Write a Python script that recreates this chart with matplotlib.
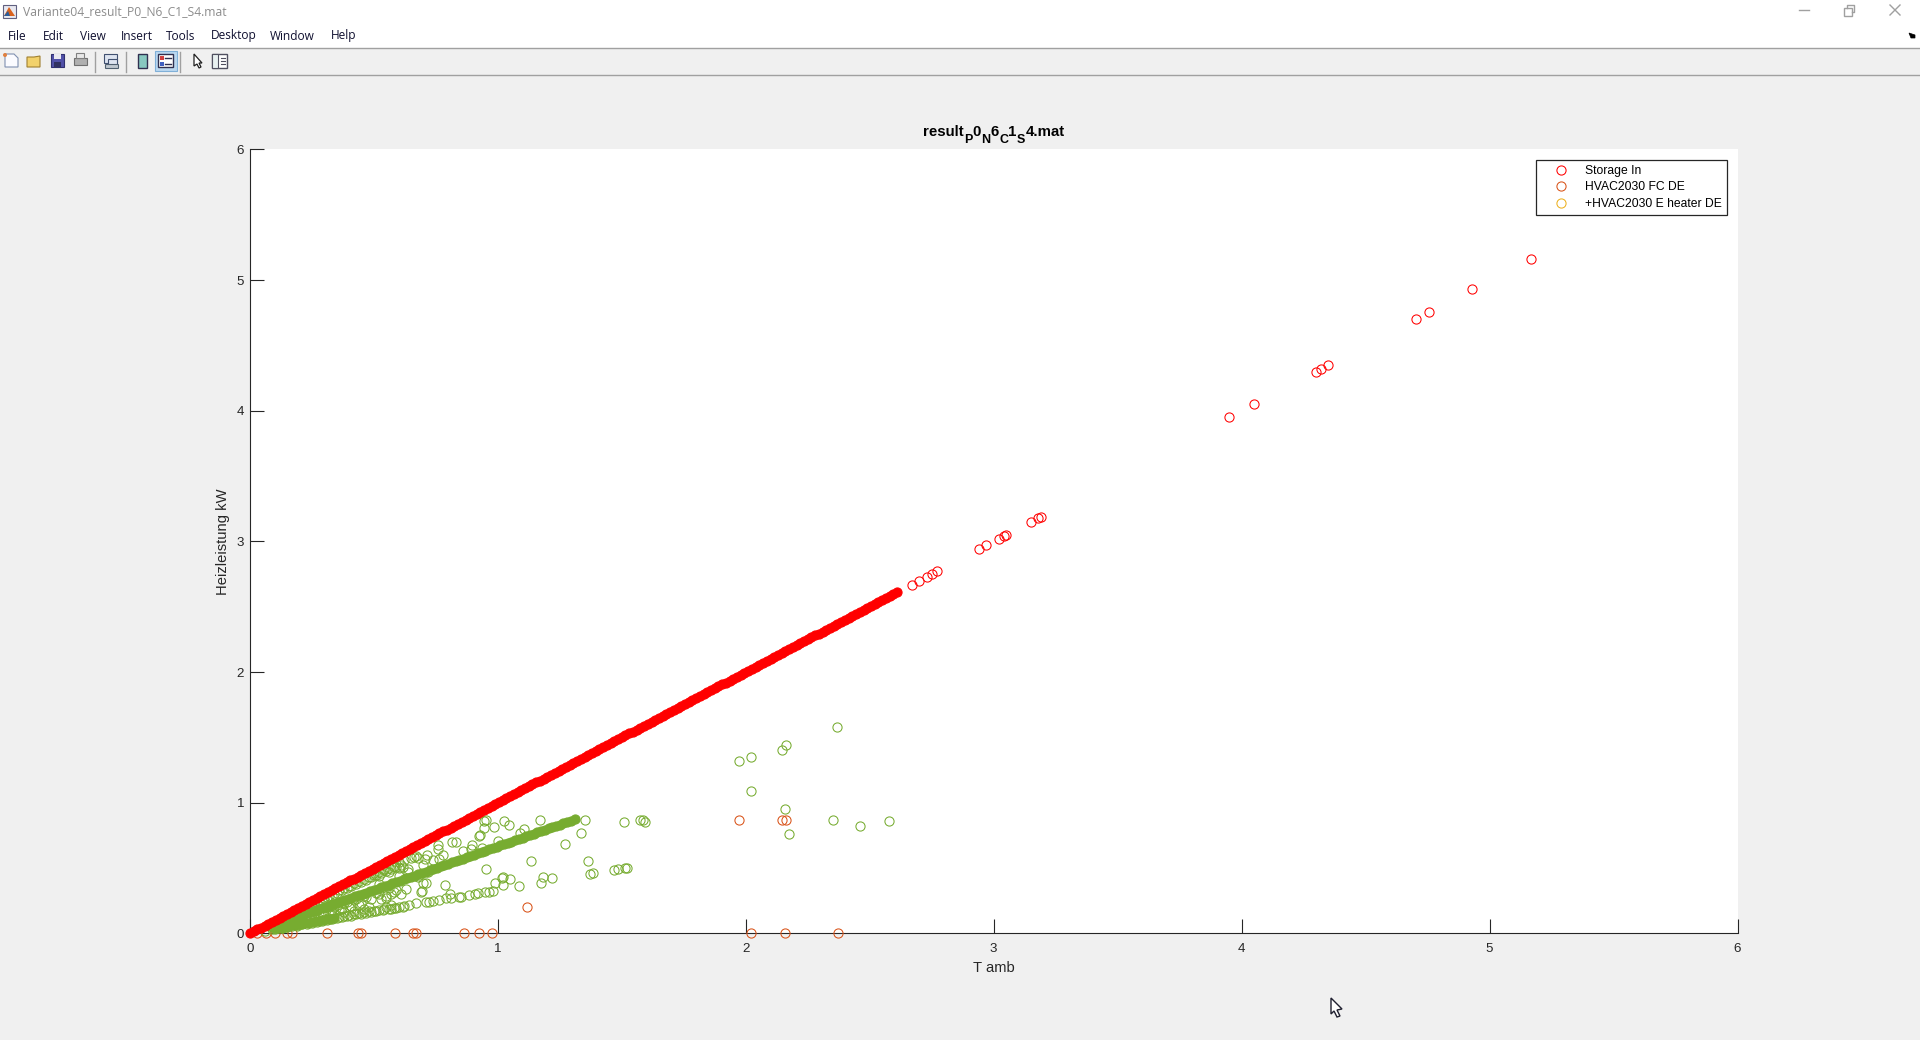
import matplotlib
matplotlib.use('Agg')
import matplotlib.pyplot as plt
import matplotlib.patches as patches

plt.rcParams['font.family'] = ['Liberation Sans', 'DejaVu Sans']

RED = '#FF0000'
ORANGE = '#D95319'
YELLOW = '#EDB120'
GREEN = '#77AC30'
BG = '#F0F0F0'
DARK = '#262626'

# storage in: heat power equals T amb, so one list serves both axes
storage_band = [0.0, 0.015, 0.03, 0.045, 0.06, 0.075, 0.09, 0.105, 0.12, 0.135, 0.15, 0.165, 0.18, 0.195, 0.21,
                0.225, 0.24, 0.255, 0.27, 0.285, 0.3, 0.315, 0.33, 0.345, 0.36, 0.375, 0.39, 0.405, 0.42, 0.435,
                0.45, 0.465, 0.48, 0.495, 0.51, 0.525, 0.54, 0.555, 0.57, 0.585, 0.6, 0.615, 0.63, 0.645, 0.66,
                0.675, 0.69, 0.705, 0.72, 0.735, 0.75, 0.765, 0.78, 0.795, 0.81, 0.825, 0.84, 0.855, 0.87, 0.885,
                0.9, 0.915, 0.93, 0.945, 0.96, 0.975, 0.99, 1.005, 1.02, 1.035, 1.05, 1.065, 1.08, 1.095, 1.11,
                1.125, 1.14, 1.155, 1.17, 1.185, 1.2, 1.215, 1.23, 1.245, 1.26, 1.275, 1.29, 1.305, 1.32, 1.335,
                1.35, 1.365, 1.38, 1.395, 1.41, 1.425, 1.44, 1.455, 1.47, 1.485, 1.5, 1.515, 1.53, 1.545, 1.56,
                1.575, 1.59, 1.605, 1.62, 1.635, 1.65, 1.665, 1.68, 1.695, 1.71, 1.725, 1.74, 1.755, 1.77, 1.785,
                1.8, 1.815, 1.83, 1.845, 1.86, 1.875, 1.89, 1.905, 1.92, 1.935, 1.95, 1.965, 1.98, 1.995, 2.01,
                2.025, 2.04, 2.055, 2.07, 2.085, 2.1, 2.115, 2.13, 2.145, 2.16, 2.175, 2.19, 2.205, 2.22, 2.235,
                2.25, 2.265, 2.28, 2.295, 2.31, 2.325, 2.34, 2.355, 2.37, 2.385, 2.4, 2.415, 2.43, 2.445, 2.46,
                2.475, 2.49, 2.505, 2.52, 2.535, 2.55, 2.565, 2.58, 2.595, 2.61]
storage_single = [2.67, 2.70, 2.73, 2.75, 2.77, 2.94, 2.97, 3.02, 3.04, 3.05, 3.15, 3.18, 3.19, 3.95, 4.05, 4.30,
                  4.32, 4.35, 4.705, 4.755, 4.93, 5.165]

# HVAC2030 FC DE
fc_x = [0.03, 0.065, 0.10, 0.15, 0.17, 0.31, 0.435, 0.45, 0.587, 0.66, 0.67, 0.864, 0.923, 0.976, 1.117,
        1.974, 2.145, 2.161, 2.021, 2.16, 2.371]
fc_y = [0, 0, 0, 0, 0, 0, 0, 0, 0, 0, 0, 0, 0, 0, 0.20,
        0.868, 0.868, 0.868, 0, 0, 0]

# fourth series, has no legend entry: the solid band
band_x = [0.08, 0.095, 0.11, 0.125, 0.14, 0.155, 0.17, 0.185, 0.20, 0.215, 0.23, 0.245, 0.26, 0.275, 0.29, 0.305,
          0.32, 0.335, 0.35, 0.365, 0.38, 0.395, 0.41, 0.425, 0.44, 0.455, 0.47, 0.485, 0.50, 0.515, 0.53, 0.545,
          0.56, 0.575, 0.59, 0.605, 0.62, 0.635, 0.65, 0.665, 0.68, 0.695, 0.71, 0.725, 0.74, 0.755, 0.77, 0.785,
          0.80, 0.815, 0.83, 0.845, 0.86, 0.875, 0.89, 0.905, 0.92, 0.935, 0.95, 0.965, 0.98, 0.995, 1.01, 1.025,
          1.04, 1.055, 1.07, 1.085, 1.10, 1.115, 1.13, 1.145, 1.16, 1.175, 1.19, 1.205, 1.22, 1.235, 1.25, 1.265,
          1.28, 1.295, 1.31]
band_y = [0.053, 0.063, 0.073, 0.083, 0.093, 0.103, 0.113, 0.123, 0.133, 0.143, 0.153, 0.163, 0.173, 0.183, 0.193,
          0.203, 0.213, 0.223, 0.233, 0.243, 0.253, 0.263, 0.273, 0.283, 0.293, 0.303, 0.313, 0.323, 0.333, 0.343,
          0.353, 0.363, 0.373, 0.383, 0.393, 0.403, 0.413, 0.423, 0.433, 0.443, 0.453, 0.463, 0.473, 0.483, 0.493,
          0.503, 0.513, 0.523, 0.533, 0.543, 0.553, 0.563, 0.573, 0.583, 0.593, 0.603, 0.613, 0.623, 0.633, 0.643,
          0.653, 0.663, 0.673, 0.683, 0.693, 0.703, 0.713, 0.723, 0.733, 0.743, 0.753, 0.763, 0.773, 0.783, 0.793,
          0.803, 0.813, 0.823, 0.833, 0.843, 0.853, 0.863, 0.873]

# lower strand where it also closes up
low_x = [0.10, 0.115, 0.13, 0.145, 0.16, 0.175, 0.19, 0.205, 0.22, 0.235, 0.25, 0.265, 0.28, 0.295, 0.31, 0.325,
         0.34]
low_y = [0.035, 0.04, 0.045, 0.05, 0.056, 0.061, 0.066, 0.072, 0.077, 0.082, 0.088, 0.093, 0.098, 0.103, 0.108, 0.114,
         0.119]

# same series: rings, lower strand then the scattered ones
ring_x = [0.06, 0.09, 0.11, 0.13, 0.15, 0.17, 0.19, 0.21, 0.23, 0.25, 0.27, 0.29, 0.31, 0.33, 0.35, 0.37,
          0.39, 0.41, 0.43, 0.45, 0.47, 0.49, 0.509, 0.536, 0.569, 0.59, 0.616, 0.643, 0.67, 0.711, 0.724, 0.74,
          0.762, 0.791, 0.81, 0.807, 0.843, 0.852, 0.886, 0.908, 0.919, 0.95, 0.966, 0.981, 0.99,
          1.018, 1.023, 1.05, 1.023, 1.086, 1.174, 1.218, 1.183, 1.135, 1.273, 1.335, 1.35, 1.362, 1.37, 1.384,
          1.467, 1.483, 1.515, 1.521, 1.511, 1.573, 1.585, 1.594,
          1.974, 2.021, 2.021, 2.146, 2.161, 2.37, 2.16, 2.351, 2.578, 2.462, 2.175,
          1.171, 1.105, 1.088, 1.044, 1.026, 0.984, 0.953, 0.945, 0.946, 0.923, 0.93, 1.0, 0.898, 0.894, 0.861,
          0.935, 0.952, 0.814, 0.832, 0.758, 0.76, 0.778, 0.715, 0.764, 0.707, 0.677, 0.661, 0.789, 0.694, 0.689,
          0.711, 0.697, 0.616, 0.64, 0.60, 0.58, 0.56, 0.54, 0.52, 0.50, 0.48, 0.46, 0.44, 0.42, 0.40, 0.38,
          0.36, 0.34, 0.32, 0.30, 0.28, 0.26, 0.24, 0.22, 0.63, 0.59, 0.57, 0.55, 0.53, 0.51, 0.49, 0.47, 0.45,
          0.43, 0.41, 0.39, 0.37, 0.35, 0.33, 0.31, 0.29, 0.27, 0.25, 0.48, 0.46, 0.44, 0.42, 0.40, 0.38, 0.36,
          0.34, 0.32, 0.30, 0.28, 0.26, 0.24,
          0.23, 0.25, 0.27, 0.29, 0.31, 0.33, 0.35, 0.37, 0.39, 0.41, 0.43, 0.45, 0.47, 0.49, 0.51, 0.53, 0.55,
          0.57, 0.59, 0.61, 0.62, 0.65, 0.67, 0.50, 0.52, 0.54, 0.56, 0.58, 0.60, 0.52, 0.55, 0.58, 0.61, 0.68,
          0.70, 0.72, 0.74, 0.21, 0.26, 0.30, 0.34, 0.38, 0.42, 0.46, 0.52, 0.56, 0.60, 0.64,
          0.36, 0.38, 0.40, 0.42, 0.44, 0.46, 0.48, 0.50, 0.52, 0.54, 0.55, 0.56, 0.57, 0.58, 0.60, 0.62]
ring_y = [0.02, 0.03, 0.04, 0.045, 0.05, 0.055, 0.06, 0.07, 0.075, 0.08, 0.09, 0.095, 0.10, 0.11, 0.115, 0.125,
          0.13, 0.135, 0.145, 0.15, 0.155, 0.165, 0.171, 0.176, 0.189, 0.196, 0.204, 0.217, 0.23, 0.237, 0.242, 0.247,
          0.258, 0.268, 0.273, 0.301, 0.278, 0.281, 0.293, 0.304, 0.306, 0.314, 0.319, 0.324, 0.388,
          0.421, 0.434, 0.416, 0.37, 0.36, 0.388, 0.423, 0.429, 0.556, 0.684, 0.765, 0.867, 0.554, 0.454, 0.459,
          0.488, 0.49, 0.503, 0.503, 0.85, 0.865, 0.865, 0.855,
          1.316, 1.347, 1.087, 1.405, 1.439, 1.581, 0.949, 0.868, 0.858, 0.819, 0.761,
          0.865, 0.796, 0.765, 0.827, 0.86, 0.811, 0.867, 0.862, 0.809, 0.745, 0.753, 0.709, 0.673, 0.648, 0.633,
          0.653, 0.495, 0.696, 0.699, 0.676, 0.648, 0.60, 0.602, 0.566, 0.566, 0.579, 0.582, 0.37, 0.327, 0.314,
          0.383, 0.388, 0.51, 0.49, 0.55, 0.51, 0.50, 0.49, 0.47, 0.46, 0.43, 0.42, 0.40, 0.385, 0.36, 0.345,
          0.33, 0.305, 0.29, 0.27, 0.25, 0.235, 0.215, 0.195, 0.34, 0.33, 0.30, 0.27, 0.265, 0.31, 0.26, 0.28, 0.235,
          0.26, 0.21, 0.24, 0.195, 0.22, 0.18, 0.20, 0.165, 0.18, 0.15, 0.205, 0.19, 0.22, 0.175, 0.20, 0.16, 0.18,
          0.145, 0.16, 0.13, 0.14, 0.115, 0.125,
          0.20, 0.215, 0.235, 0.255, 0.275, 0.29, 0.31, 0.33, 0.345, 0.36, 0.38, 0.395, 0.41, 0.43, 0.445, 0.46, 0.475,
          0.49, 0.505, 0.525, 0.56, 0.575, 0.59, 0.45, 0.44, 0.485, 0.47, 0.515, 0.50, 0.30, 0.29, 0.32, 0.30, 0.43,
          0.52, 0.47, 0.56, 0.11, 0.15, 0.17, 0.205, 0.23, 0.255, 0.285, 0.38, 0.35, 0.44, 0.47,
          0.125, 0.135, 0.14, 0.15, 0.155, 0.16, 0.17, 0.175, 0.18, 0.185, 0.2, 0.19, 0.22, 0.195, 0.2, 0.21]

xticks = [0, 1, 2, 3, 4, 5, 6]
yticks = [0, 1, 2, 3, 4, 5, 6]
title_parts = [('result', 0), ('P', 1), ('0', 0), ('N', 1), ('6', 0), ('C', 1), ('1', 0), ('S', 1), ('4.mat', 0)]

W, H = 1920, 1040
fig = plt.figure(figsize=(W/100, H/100), dpi=100, facecolor=BG)

# window chrome, in pixels
ui = fig.add_axes([0, 0, 1, 1])
ui.set_xlim(0, W)
ui.set_ylim(H, 0)
ui.axis('off')
ui.add_patch(patches.Rectangle((0, 0), W, 48, fc='white', ec='none'))
ui.plot([0, W], [48, 48], color='#A0A0A0', lw=1)
ui.plot([0, W], [75, 75], color='#A0A0A0', lw=1)
ui.text(23, 11.5, 'Variante04_result_P0_N6_C1_S4.mat', color='#8C8C8C', fontsize=8.7, family='Open Sans', va='center')

menu_x = [8, 43, 80, 121, 166, 211, 270, 331]
menu_names = ['File', 'Edit', 'View', 'Insert', 'Tools', 'Desktop', 'Window', 'Help']
for mx, name in zip(menu_x, menu_names):
    ui.text(mx, 36, name, color='#101030', fontsize=8.6, family='Open Sans', va='center')


def box(x, y, w, h, fc, ec='#505050', lw=0.8):
    ui.add_patch(patches.Rectangle((x, y), w, h, fc=fc, ec=ec, lw=lw))


# app icon
box(3, 5, 13, 13, '#E8E8F0', '#606080')
ui.add_patch(patches.Polygon([[4, 16], [9, 7], [15, 16]], fc='#D9621E', ec='none'))
ui.add_patch(patches.Polygon([[4, 16], [8, 11], [10, 16]], fc='#2B5C9A', ec='none'))
# new, open, save, print
ui.add_patch(patches.Polygon([[5, 54], [14, 54], [18, 58], [18, 67], [5, 67]], fc='#FBFBFF', ec='#8090B0', lw=0.8))
ui.add_patch(patches.Circle((5, 55), 2, fc='#E08040', ec='none'))
ui.add_patch(patches.Polygon([[27, 57], [34, 57], [40, 56], [40, 67], [27, 67]], fc='#F2D16B', ec='#A08030', lw=0.8))
box(51, 54, 13, 13, '#5050A8', '#303070')
box(54, 54, 7, 5, '#E8E8F0', 'none')
box(54, 62, 7, 5, '#303060', 'none')
box(74, 58, 13, 7, '#B0B0B0', '#707070')
box(76, 53, 8, 5, '#E8E8E8', '#808080')
# separators
for sx in [95, 126, 180]:
    ui.plot([sx, sx], [52, 72], color='#A0A0A0', lw=1)
# link plot
box(104, 54, 13, 9, '#DDE4F0', '#405070')
box(108, 59, 9, 6, '#DDE4F0', '#405070')
ui.add_patch(patches.FancyBboxPatch((106, 65), 12, 3, boxstyle='round,pad=0.5', fc='#C0C8D0', ec='#506070', lw=0.8))
# colorbar, legend
ui.add_patch(patches.Rectangle((138, 54), 9, 14, fc='#88C8C0', ec='#303050', lw=1))
ui.add_patch(patches.Rectangle((155, 51), 22, 20, fc='#BBD8F0', ec='#80B0D8', lw=0.8))
box(158, 54, 15, 13, 'white', '#303050', 1)
box(159.5, 56, 4, 4, '#D04040', 'none')
box(159.5, 62, 4, 4, '#4060C0', 'none')
ui.plot([165, 171], [58, 58], color='#303050', lw=1)
ui.plot([165, 171], [64, 64], color='#303050', lw=1)
# pointer, property panel
ui.add_patch(patches.Polygon([[194, 54], [202, 63], [199, 63], [201, 67], [199, 68], [197, 64], [194, 66]],
                             fc='white', ec='#202020', lw=0.9))
box(212, 54, 15, 14, 'white', '#505060', 1)
box(212, 54, 6, 14, '#E8F0F0', '#505060', 0.8)
for ly in [58, 61, 64]:
    ui.plot([221, 225], [ly, ly], color='#505060', lw=0.8)
# window buttons
ui.plot([1799, 1809], [10, 10], color='#A0A0A0', lw=1)
box(1844, 8, 8, 8, 'white', '#A0A0A0', 1)
ui.plot([1847, 1847, 1854, 1854, 1852], [8, 5, 5, 12, 12], color='#A0A0A0', lw=1)
ui.plot([1890, 1900], [5, 15], color='#A0A0A0', lw=1)
ui.plot([1890, 1900], [15, 5], color='#A0A0A0', lw=1)
ui.add_patch(patches.Polygon([[1909, 33], [1915, 35], [1915, 38], [1911, 38]], fc='black', ec='black', lw=0.5))
# mouse cursor
ui.add_patch(patches.Polygon([[1331, 998], [1342, 1009], [1337, 1010], [1340, 1016], [1337, 1017], [1334, 1011],
                              [1331, 1014]], fc='white', ec='#202030', lw=1))

# the chart
ax = fig.add_axes([249.8/W, (H-933.4)/H, 1487.8/W, 784/H], facecolor='white')
ms = 6.6
mew = 0.75
ax.plot(fc_x, fc_y, 'o', mfc='none', mec=ORANGE, ms=ms, mew=mew, clip_on=False, zorder=3)
ax.plot(ring_x, ring_y, 'o', mfc='none', mec=GREEN, ms=ms, mew=mew, clip_on=False, zorder=4)
ax.plot(low_x, low_y, 'o', mfc=GREEN, mec=GREEN, ms=ms, mew=mew, clip_on=False, zorder=4)
ax.plot(band_x, band_y, 'o', mfc=GREEN, mec=GREEN, ms=ms, mew=mew, clip_on=False, zorder=4)
ax.plot(storage_band, storage_band, 'o', mfc=RED, mec=RED, ms=ms, mew=mew, clip_on=False, zorder=5)
ax.plot(storage_single, storage_single, 'o', mfc='none', mec=RED, ms=ms, mew=mew, clip_on=False, zorder=5)

h1 = plt.Line2D([], [], ls='none', marker='o', mfc='none', mec=RED, ms=ms, mew=mew)
h2 = plt.Line2D([], [], ls='none', marker='o', mfc='none', mec=ORANGE, ms=ms, mew=mew)
h3 = ax.plot([], [], ls='none', marker='o', mfc='none', mec=YELLOW, ms=ms, mew=mew)[0]
leg = ax.legend([h1, h2, h3], ['Storage In', 'HVAC2030 FC DE', '+HVAC2030 E heater DE'],
                loc='upper right', bbox_to_anchor=((1727-249.8)/1487.8, (933.4-160)/784), borderaxespad=0,
                fontsize=8.7, frameon=True, fancybox=False, framealpha=1, edgecolor=DARK,
                handletextpad=0.4, labelspacing=0.36, borderpad=0.42, handlelength=3.2)
leg.get_frame().set_linewidth(0.9)
leg.set_zorder(10)

ax.set_xlim(0, 6)
ax.set_ylim(0, 6)
ax.set_xticks(xticks)
ax.set_yticks(yticks)
ax.spines['top'].set_visible(False)
ax.spines['right'].set_visible(False)
for side in ['left', 'bottom']:
    ax.spines[side].set_color(DARK)
    ax.spines[side].set_linewidth(0.8)
ax.tick_params(direction='in', length=10, width=0.8, color=DARK, labelcolor=DARK, labelsize=9.6, pad=4)
ax.tick_params(axis='x', pad=7)
ax.set_xlabel('T amb', fontsize=10.6, color=DARK, labelpad=4)
ax.set_ylabel('Heizleistung kW', fontsize=10.6, color=DARK, labelpad=5)

# title with tex style subscripts, laid out piece by piece
renderer = fig.canvas.get_renderer()
title_texts = []
title_w = 0
for part, is_sub in title_parts:
    t = ui.text(0, 143 if is_sub else 136.5, part, fontsize=9.0 if is_sub else 10.8, fontweight='bold', color='black',
                va='baseline', ha='left')
    w = t.get_window_extent(renderer).width + 0.3
    title_texts.append((t, w))
    title_w += w
tx = 994 - title_w/2
for t, w in title_texts:
    t.set_x(tx)
    tx += w

fig.savefig('out.png', dpi=100, facecolor=BG)
